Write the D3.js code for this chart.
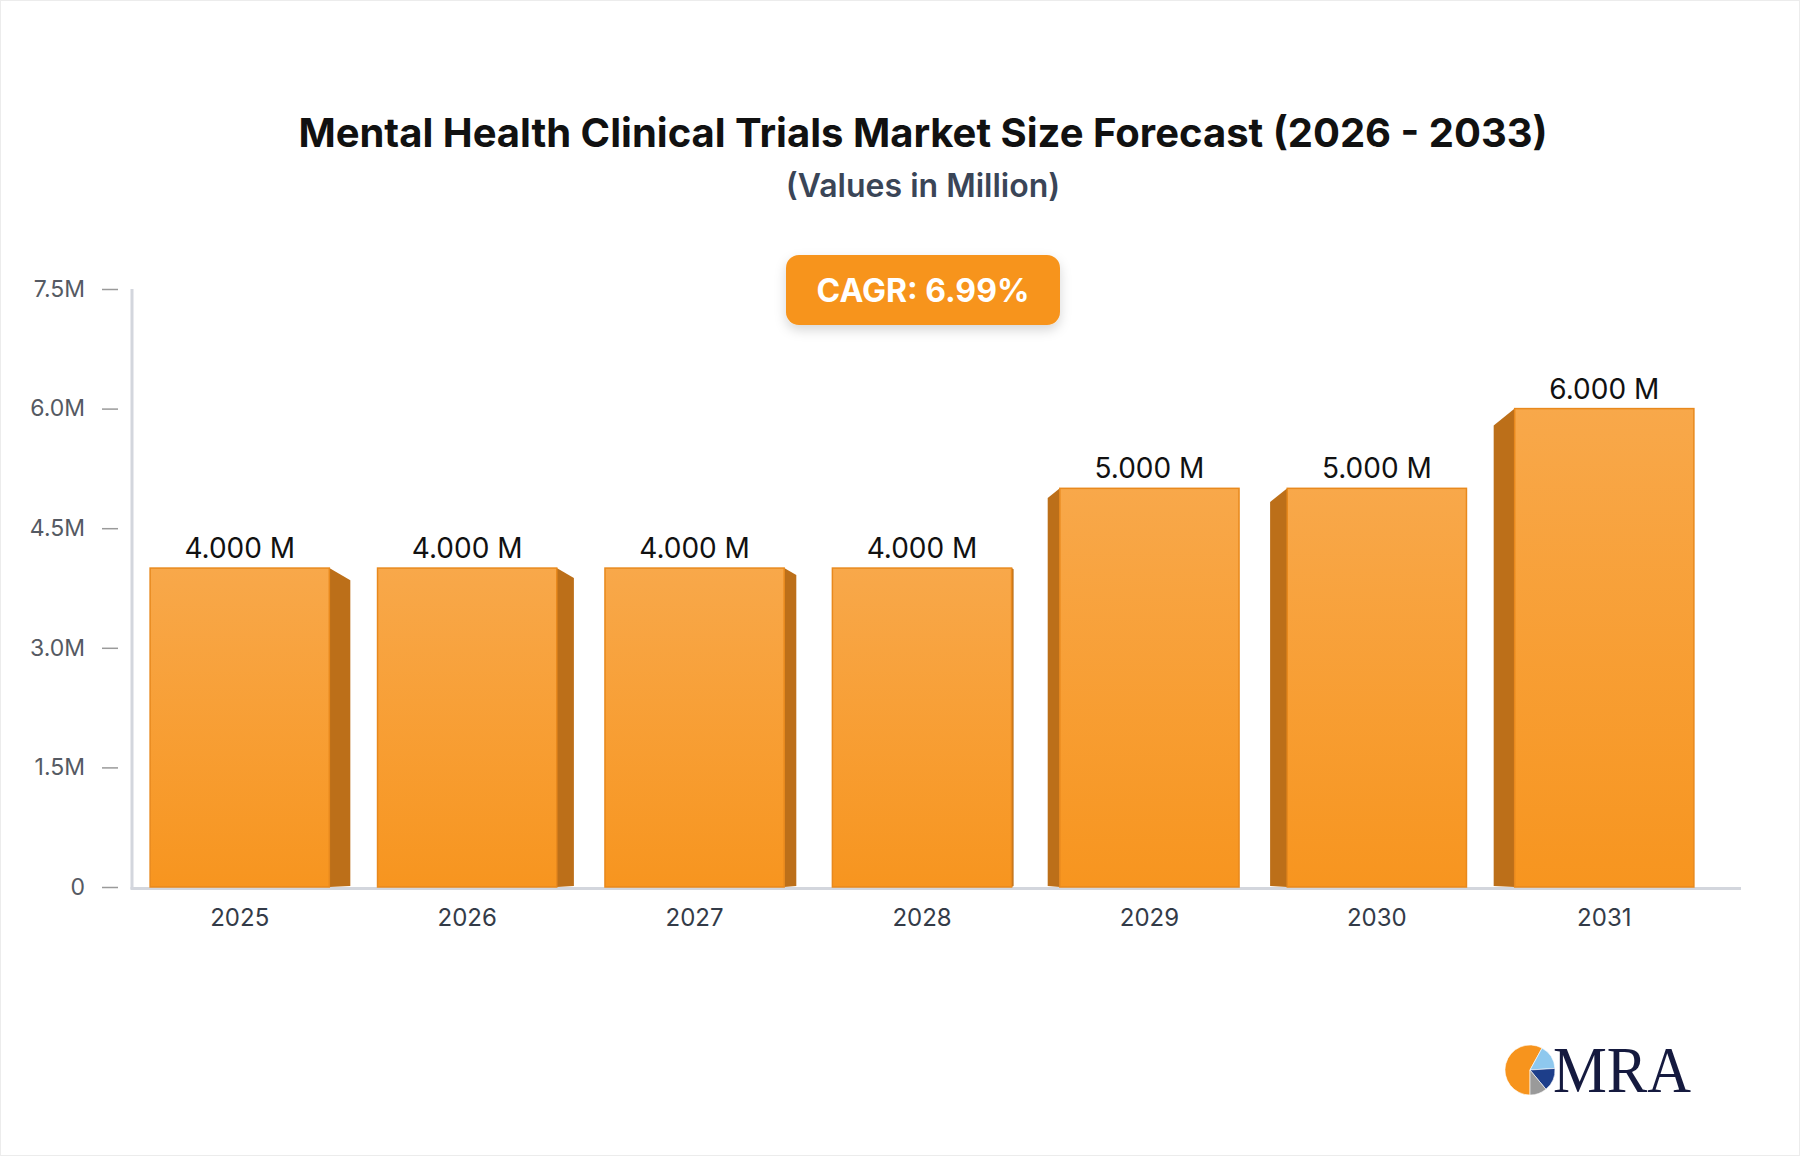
<!DOCTYPE html>
<html>
<head>
<meta charset="utf-8">
<script src="https://cdn.jsdelivr.net/npm/d3@7"></script>
<style>
  html, body { margin: 0; padding: 0; background: #ffffff; }
  svg { display: block; }
</style>
</head>
<body>
<svg id="chart" width="1800" height="1156"></svg>
<script>
// ---- data ----
const years = ["2025", "2026", "2027", "2028", "2029", "2030", "2031"];
const values = [4, 4, 4, 4, 5, 5, 6];
const valueLabels = ["4.000 M", "4.000 M", "4.000 M", "4.000 M", "5.000 M", "5.000 M", "6.000 M"];
const yTicks = [0, 1.5, 3, 4.5, 6, 7.5];
const yTickLabels = ["0", "1.5M", "3.0M", "4.5M", "6.0M", "7.5M"];
const titleText = "Mental Health Clinical Trials Market Size Forecast (2026 - 2033)";
const subtitleText = "(Values in Million)";
const cagrText = "CAGR: 6.99%";
const logoSlices = [
  { name: "orange", value: 58, color: "#F7941D" },
  { name: "lightblue", value: 16, color: "#8EC8EE" },
  { name: "navy", value: 15, color: "#1D3E8A" },
  { name: "gray", value: 11, color: "#9A9A9A" }
];

const svg = d3.select("#chart");
const W = 1800, H = 1156;

// page frame
svg.append("rect").attr("x", 0.5).attr("y", 0.5).attr("width", W - 1).attr("height", H - 1)
  .attr("fill", "#ffffff").attr("stroke", "#ececec").attr("stroke-width", 1);

const defs = svg.append("defs");
const grad = defs.append("linearGradient").attr("id", "barGrad").attr("x1", 0).attr("y1", 0).attr("x2", 0).attr("y2", 1);
grad.append("stop").attr("offset", "0%").attr("stop-color", "#F8A84A");
grad.append("stop").attr("offset", "100%").attr("stop-color", "#F7951F");
const shadow = defs.append("filter").attr("id", "badgeShadow").attr("x", "-20%").attr("y", "-30%").attr("width", "140%").attr("height", "180%");
shadow.append("feDropShadow").attr("dx", 0).attr("dy", 5).attr("stdDeviation", 6)
  .attr("flood-color", "#000").attr("flood-opacity", 0.16);

// ---- scales ----
const x = d3.scaleBand().domain(years).range([126, 1718]).paddingInner(0.212).paddingOuter(0.106);
const y = d3.scaleLinear().domain([0, 7.5]).range([887, 289]);

// ---- titles ----
svg.append("text").attr("x", 923).attr("y", 147).attr("text-anchor", "middle")
  .attr("font-family", "Inter, 'Noto Sans', sans-serif").attr("font-weight", 700)
  .attr("font-size", 40).attr("fill", "#111111").text(titleText);
svg.append("text").attr("x", 923).attr("y", 197).attr("text-anchor", "middle")
  .attr("font-family", "Inter, 'Noto Sans', sans-serif").attr("font-weight", 600)
  .attr("font-size", 32).attr("fill", "#3A4557").text(subtitleText);

// ---- y axis ----
const yAxis = d3.axisLeft(y).tickValues(yTicks)
  .tickFormat((d, i) => yTickLabels[i]).tickSize(16).tickPadding(17);
const yg = svg.append("g").attr("transform", "translate(118,0)").call(yAxis);
yg.select(".domain").remove();
yg.selectAll(".tick line").attr("stroke", "#9a9a9a").attr("stroke-width", 1.5);
yg.selectAll(".tick text").attr("font-family", "Inter, 'Noto Sans', sans-serif")
  .attr("font-size", 23).attr("fill", "#555a63");

// axis lines
svg.append("line").attr("x1", 132).attr("x2", 132).attr("y1", y(7.5)).attr("y2", 889)
  .attr("stroke", "#d3d6dd").attr("stroke-width", 3);
svg.append("line").attr("x1", 130.5).attr("x2", 1741).attr("y1", 888.5).attr("y2", 888.5)
  .attr("stroke", "#d3d6dd").attr("stroke-width", 3);

// ---- x axis labels ----
const xAxis = d3.axisBottom(x).tickSize(0).tickPadding(20);
const xg = svg.append("g").attr("transform", "translate(0,889)").call(xAxis);
xg.select(".domain").remove();
xg.selectAll(".tick text").attr("font-family", "Inter, 'Noto Sans', sans-serif")
  .attr("font-size", 24).attr("fill", "#333b48");

// ---- bars (pseudo 3D) ----
const n = years.length, mid = (n - 1) / 2;
const bars = svg.append("g");
years.forEach((yr, i) => {
  const x0 = x(yr), bw = x.bandwidth(), yt = y(values[i]), yb = y(0);
  const d = Math.abs(i - mid) / mid;
  const sw = Math.max(2, 21 * Math.sqrt(d));
  const rightSide = i <= mid;
  const drop = rightSide ? sw * 0.58 : sw * 0.8;
  let pts;
  if (rightSide) {
    const xe = x0 + bw;
    pts = [[xe, yt], [xe + sw, yt + drop], [xe + sw, yb - 1], [xe, yb]];
  } else {
    const xe = x0;
    pts = [[xe, yt], [xe - sw, yt + drop], [xe - sw, yb - 1], [xe, yb]];
  }
  bars.append("polygon").attr("points", pts.map(p => p.join(",")).join(" "))
    .attr("fill", "#BC6F19");
  bars.append("rect").attr("x", x0).attr("y", yt).attr("width", bw).attr("height", yb - yt)
    .attr("fill", "url(#barGrad)").attr("stroke", "#E8891D").attr("stroke-width", 1.5);
  bars.append("text").attr("x", x0 + bw / 2).attr("y", yt - 10).attr("text-anchor", "middle")
    .attr("font-family", "Inter, 'Noto Sans', sans-serif").attr("font-size", 28)
    .attr("fill", "#111111").text(valueLabels[i]);
});

// ---- CAGR badge ----
const badge = svg.append("g");
badge.append("rect").attr("x", 786).attr("y", 255).attr("width", 274).attr("height", 70).attr("rx", 13)
  .attr("fill", "#F7941D").attr("filter", "url(#badgeShadow)");
badge.append("text").attr("x", 923).attr("y", 302).attr("text-anchor", "middle")
  .attr("font-family", "Inter, 'Noto Sans', sans-serif").attr("font-weight", 700)
  .attr("font-size", 32).attr("fill", "#ffffff").text(cagrText);

// ---- logo ----
const logo = svg.append("g").attr("transform", "translate(1530,1070)");
const pie = d3.pie().value(d => d.value).sort(null).startAngle(Math.PI).endAngle(Math.PI * 3);
const arc = d3.arc().innerRadius(0).outerRadius(25);
logo.selectAll("path").data(pie(logoSlices)).join("path").attr("d", arc).attr("fill", d => d.data.color)
  .attr("stroke", "#ffffff").attr("stroke-width", 0.6);
svg.append("text").attr("x", 1553).attr("y", 1092)
  .attr("font-family", "'Liberation Serif', 'DejaVu Serif', serif").attr("font-size", 66)
  .attr("fill", "#151a3f").attr("textLength", 138).attr("lengthAdjust", "spacingAndGlyphs").text("MRA");
</script>
</body>
</html>
